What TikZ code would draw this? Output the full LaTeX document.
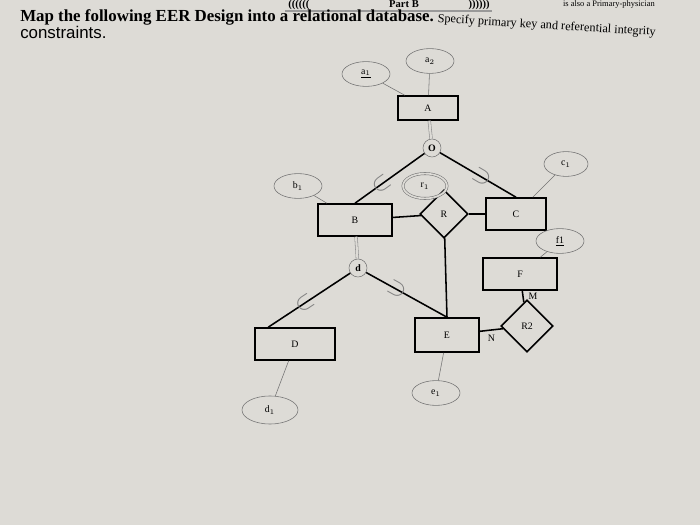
\documentclass[tikz,border=0pt]{standalone}
\usepackage{fontspec}
\setmainfont{Liberation Serif}
\setsansfont{Liberation Sans}
\usetikzlibrary{shapes.geometric}

\definecolor{paper}{RGB}{221,219,214}
\tikzset{
  entity/.style={draw, line width=1.1pt, minimum width=1.5cm, minimum height=0.8cm, font=\scriptsize},
  attr/.style={ellipse, draw=black!55, minimum width=1.2cm, minimum height=0.62cm, inner sep=0pt, font=\scriptsize},
  multi/.style={attr, double=paper, double distance=1.2pt},
  rel/.style={diamond, draw, line width=1.1pt, minimum size=1.2cm, inner sep=0pt, font=\scriptsize},
  circ/.style={circle, draw=black!55, minimum size=0.45cm, inner sep=0pt, font=\scriptsize\bfseries},
  link/.style={line width=1.1pt},
  alink/.style={draw=black!55, thin},
  dlink/.style={draw=black!45, double=paper, double distance=1.5pt},
  subarc/.style={sloped, allow upside down, inner sep=0pt, text=black!50, font=\LARGE},
  headpart/.style={font=\fontsize{7.5}{9}\selectfont\bfseries, inner sep=0pt},
}

\begin{document}
\begin{tikzpicture}[x=0.025cm, y=-0.025cm]
        \fill[paper] (0,0) rectangle (700,525);
        \useasboundingbox (0,0) rectangle (700,525);
        % heading
        \node[anchor=base east, inner sep=0pt, font=\fontsize{6}{7}\selectfont] (note) at (655,7) {is also a Primary-physician};
        \node[headpart, anchor=base west] (lpar) at (288,8) {((((((};
        \node[headpart, anchor=base] (part) at (404,8) {Part B};
        \node[headpart, anchor=base east] (rpar) at (490,8) {))))))};
        \draw[black!40, line width=1pt] (285,11) -- (492,11);
        \node[anchor=base west, inner sep=0pt, font=\fontsize{12}{14}\selectfont\bfseries] (title) at (20,22) {Map the following EER Design into a relational database.};
        \node[anchor=base west, inner sep=0pt, rotate=-3.5, font=\fontsize{8.7}{10}\selectfont] (spec) at (title.base east) {\ Specify primary key and referential integrity};
        \node[anchor=base west, inner sep=0pt, font=\sffamily\fontsize{12}{14}\selectfont] (cons) at (20,39) {constraints.};

        % entities, relationships, circles
        \node[entity, minimum height=0.6cm] (A) at (428,108) {A};
        \node[entity, minimum width=1.85cm] (B) at (355,220) {B};
        \node[entity] (C) at (516,214) {C};
        \node[entity, minimum width=2cm] (D) at (295,344) {D};
        \node[entity, minimum width=1.6cm, minimum height=0.85cm] (E) at (447,335) {E};
        \node[entity, minimum width=1.85cm] (F) at (520,274) {F};
        \node[rel] (R) at (444,214) {R};
        \node[rel, minimum size=1.3cm] (R2) at (527,326) {R2};
        \node[circ] (O) at (432,148) {O};
        \node[circ] (d) at (358,268) {d};

        % attributes
        \node[attr] (a1) at (366,74) {\underline{a$_1$}};
        \node[attr] (a2) at (430,61) {a$_2$};
        \node[attr] (b1) at (298,186) {b$_1$};
        \node[attr, minimum width=1.1cm] (c1) at (566,164) {c$_1$};
        \node[multi, minimum width=1.1cm] (r1) at (425,186) {r$_1$};
        \node[attr, minimum width=1.2cm] (f1) at (560,241) {\underline{f1}};
        \node[attr, minimum width=1.4cm, minimum height=0.7cm] (d1) at (270,410) {d$_1$};
        \node[attr] (e1) at (436,393) {e$_1$};

        % attribute lines
        \foreach \a/\e in {a1/A, a2/A, b1/B, c1/C, r1/R, f1/F, d1/D, e1/E}
            \draw[alink] (\a) -- (\e);

        % specialisations
        \draw[dlink] (A) -- (O);
        \draw[link] (B.north) -- node[subarc, pos=0.39] (s1) {$\subset$} (O);
        \draw[link] (C.north) -- node[subarc, pos=0.45] (s2) {$\subset$} (O);
        \draw[dlink] (B) -- (d);
        \draw[link] ([xshift=0.35cm]D.north west) -- node[subarc, pos=0.45] (s3) {$\subset$} (d);
        \draw[link] (E.north) -- node[subarc, pos=0.62] (s4) {$\subset$} (d);

        % relationships
        \draw[link] (B) -- (R);
        \draw[link] (R) -- (C);
        \draw[link] (R) -- (E.north);
        \draw[link] (E) -- node[below, font=\scriptsize] (n) {N} (R2);
        \draw[link] (R2) -- node[right, font=\scriptsize] (m) {M} (F);
    \end{tikzpicture}
\end{document}
